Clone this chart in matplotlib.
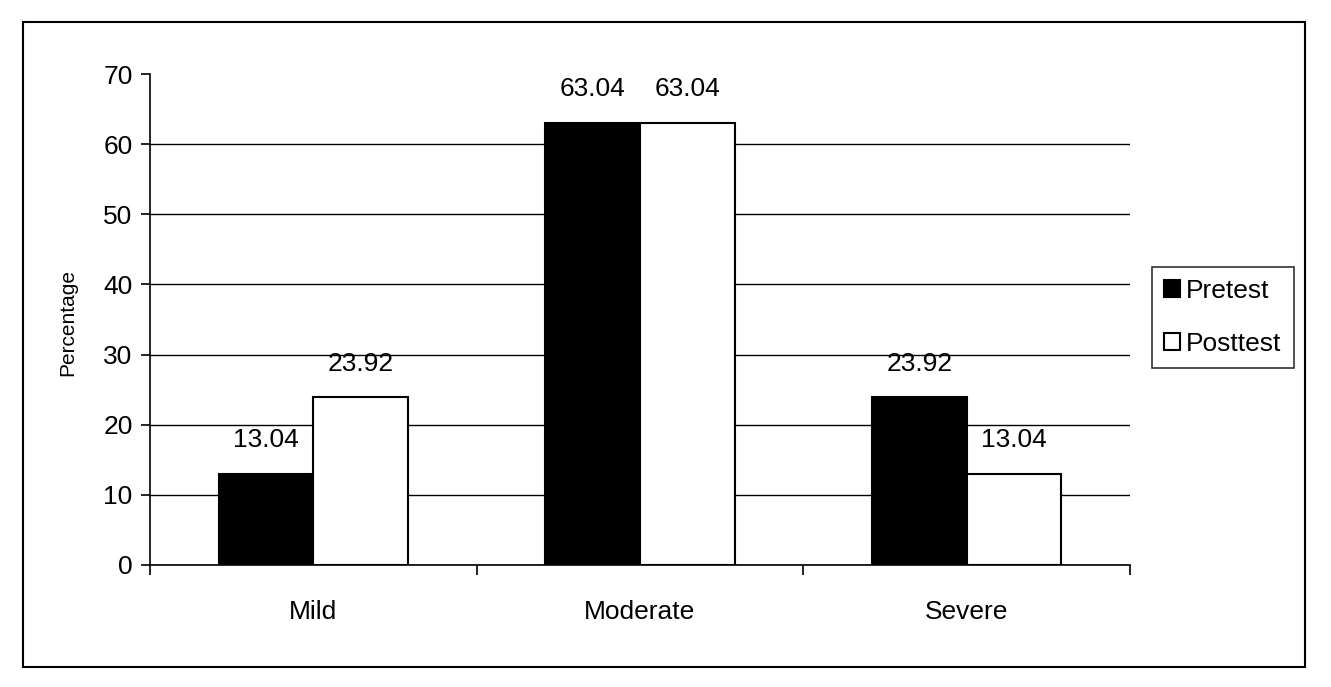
import matplotlib.pyplot as plt
import numpy as np
from matplotlib.patches import Rectangle

# severity categories and percentages
categories = ["Mild", "Moderate", "Severe"]
pretest = [13.04, 63.04, 23.92]
posttest = [23.92, 63.04, 13.04]
yticks = [0, 10, 20, 30, 40, 50, 60, 70]

plt.rcParams['font.family'] = ['Liberation Sans', 'DejaVu Sans']

fig = plt.figure(figsize=(13.31, 6.87), dpi=100)
ax = fig.add_axes([150 / 1331, 122 / 687, 980 / 1331, 491 / 687])

x = np.arange(len(categories))
w = 0.29
b1 = ax.bar(x - w / 2, pretest, w, color='black', edgecolor='black', linewidth=1.5, label='Pretest')
b2 = ax.bar(x + w / 2, posttest, w, color='white', edgecolor='black', linewidth=1.5, label='Posttest')

for bars in (b1, b2):
    for r in bars:
        ax.annotate("%.2f" % r.get_height(), (r.get_x() + r.get_width() / 2, r.get_height()),
                    xytext=(0, 15.5), textcoords='offset points', ha='center', va='bottom', fontsize=19)

ax.set_xlim(-0.5, len(categories) - 0.5)
ax.set_ylim(0, 70)
ax.set_yticks(yticks)
ax.set_xticks(x)
ax.set_xticklabels(categories, fontsize=19)
ax.set_xticks(np.arange(-0.5, len(categories), 1.0), minor=True)
ax.tick_params(axis='x', which='major', length=0, pad=25)
ax.tick_params(axis='x', which='minor', length=7, width=1.2, direction='out')
ax.tick_params(axis='y', length=6.5, width=1.2, labelsize=19, pad=6)

ax.grid(axis='y', color='black', linewidth=1.0)
ax.yaxis.get_gridlines()[-1].set_visible(False)
ax.set_axisbelow(True)

for s in ['top', 'right']:
    ax.spines[s].set_visible(False)
for s in ['left', 'bottom']:
    ax.spines[s].set_linewidth(1.2)

fig.text(68 / 1331, 1 - 322 / 687, "Percentage", rotation=90, ha='center', va='center', fontsize=15)

leg = fig.legend(handles=[b1, b2], loc='upper left', bbox_to_anchor=(1152 / 1331, 1 - 267 / 687),
                 fontsize=19, frameon=True, fancybox=False, edgecolor='black',
                 handlelength=0.6, handleheight=0.6, handletextpad=0.25, borderpad=0.45,
                 labelspacing=1.1, borderaxespad=0)
leg.get_frame().set_linewidth(1.2)

# outer border
fig.patches.append(Rectangle((23 / 1331, 1 - 667 / 687), (1305 - 23) / 1331, (667 - 22) / 687,
                             transform=fig.transFigure, fill=False, edgecolor='black', linewidth=1.5))

fig.savefig("out.png", dpi=100)
